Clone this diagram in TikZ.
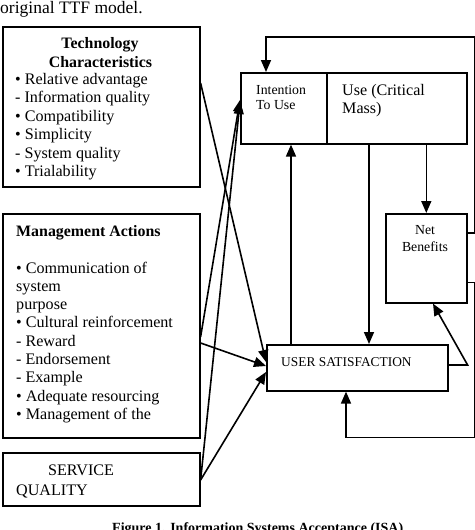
\documentclass[tikz,border=0pt]{standalone}
\usepackage{fontspec}
\setmainfont{Liberation Serif}
\usetikzlibrary{arrows.meta,calc}
\begin{document}
\begin{tikzpicture}[x=1pt,y=-1pt,
  box/.style={draw, line width=1.6pt, inner sep=0pt, anchor=north west},
  conn/.style={line width=1.6pt},
  arr/.style={conn, -{Triangle[length=12pt,width=10pt]}},
  txt/.style={inner sep=0pt, anchor=base west, font=\fontsize{16.1}{18.4}\selectfont},
  hd/.style={inner sep=0pt, anchor=base, font=\bfseries\fontsize{15.9}{18.4}\selectfont},
  sm/.style={inner sep=0pt, anchor=base west, font=\fontsize{13.8}{16}\selectfont}]
\useasboundingbox (0,0) rectangle (474,530);
% boxes
\node[box, minimum width=197pt, minimum height=160pt] (tech) at (2,26) {};
\node[box, minimum width=197pt, minimum height=224pt] (mgmt) at (2,213) {};
\node[box, minimum width=197pt, minimum height=53pt] (serv) at (2,452) {};
\node[box, minimum width=86pt, minimum height=71pt] (itu) at (240,72) {};
\node[box, minimum width=140pt, minimum height=71pt] (use) at (326,72) {};
\node[box, minimum width=81pt, minimum height=89pt] (net) at (385,213) {};
\node[box, minimum width=181pt, minimum height=46pt] (us) at (266,344) {};
% texts
\node[inner sep=0pt, anchor=base west, font=\fontsize{17.5}{20}\selectfont] (toptxt) at (0,13) {original TTF model.};
\node[hd] (th1) at (100,48) {Technology};
\node[hd] (th2) at (100.5,67) {Characteristics};
\node[txt] (tc1) at (15,84.5) {• Relative advantage};
\node[txt] (tc2) at (15,102.9) {- Information quality};
\node[txt] (tc3) at (15,121.3) {• Compatibility};
\node[txt] (tc4) at (15,139.7) {• Simplicity};
\node[txt] (tc5) at (15,158.1) {- System quality};
\node[txt] (tc6) at (15,176.5) {• Trialability};
\node[hd, anchor=base west] (mh) at (16,236) {Management Actions};
\node[txt] (m1) at (16,273) {• Communication of};
\node[txt] (m2) at (16,291.3) {system};
\node[txt] (m3) at (16,309.6) {purpose};
\node[txt] (m4) at (16,327.9) {• Cultural reinforcement};
\node[txt] (m5) at (16,346.2) {- Reward};
\node[txt] (m6) at (16,364.5) {- Endorsement};
\node[txt] (m7) at (16,382.8) {- Example};
\node[txt] (m8) at (16,401.1) {• Adequate resourcing};
\node[txt] (m9) at (16,419.4) {• Management of the};
\node[txt] (s1) at (48,475) {SERVICE};
\node[txt] (s2) at (16,495) {QUALITY};
\node[sm] (i1) at (256,94.5) {Intention};
\node[sm] (i2) at (256,109.5) {To Use};
\node[txt] (u1) at (342,95.5) {Use (Critical};
\node[txt] (u2) at (342,113) {Mass)};
\node[sm, anchor=base] (n1) at (425,234) {Net};
\node[sm, anchor=base] (n2) at (425,251) {Benefits};
\node[sm, font=\fontsize{13.4}{16}\selectfont] (ust) at (281,366) {USER SATISFACTION};
\node[inner sep=0pt, anchor=base west, font=\bfseries\fontsize{14}{16}\selectfont] (cap) at (112,532) {Figure 1. Information Systems Acceptance (ISA)};
% connectors from left boxes
\draw[arr] ($(tech.north east)+(0,57)$) -- ($(us.north west)+(0,18)$);
\draw[arr] ($(mgmt.north east)+(0,124)$) -- ($(itu.north west)+(0,28)$);
\draw[arr] ($(mgmt.north east)+(0,130)$) -- ($(us.north west)+(0,22)$);
\draw[arr] ($(serv.north east)+(0,28)$) -- ($(itu.north west)+(0,30)$);
\draw[arr] ($(serv.north east)+(0,28)$) -- ($(us.north west)+(0,28)$);
% verticals
\draw[arr] ($(us.north west)+(25,0)$) -- ($(itu.south west)+(51,0)$);
\draw[arr] ($(use.south west)+(43,0)$) -- ($(us.north west)+(103,0)$);
\draw[arr] (use.south -| net.north) -- (net.north);
% feedback loops
\draw[arr] ($(net.north east)+(0,20)$) -| ($(use.north east)+(7,-35)$) -| ($(itu.north west)+(26,0)$);
\draw[arr] ($(net.south east)+(0,-21)$) -| ($(us.south east)+(26,46)$) -| ($(us.south west)+(80,0)$);
\draw[arr] ($(us.north east)+(0,21)$) -- ++(19,0) -- ($(net.south west)+(48,0)$);
\end{tikzpicture}
\end{document}
